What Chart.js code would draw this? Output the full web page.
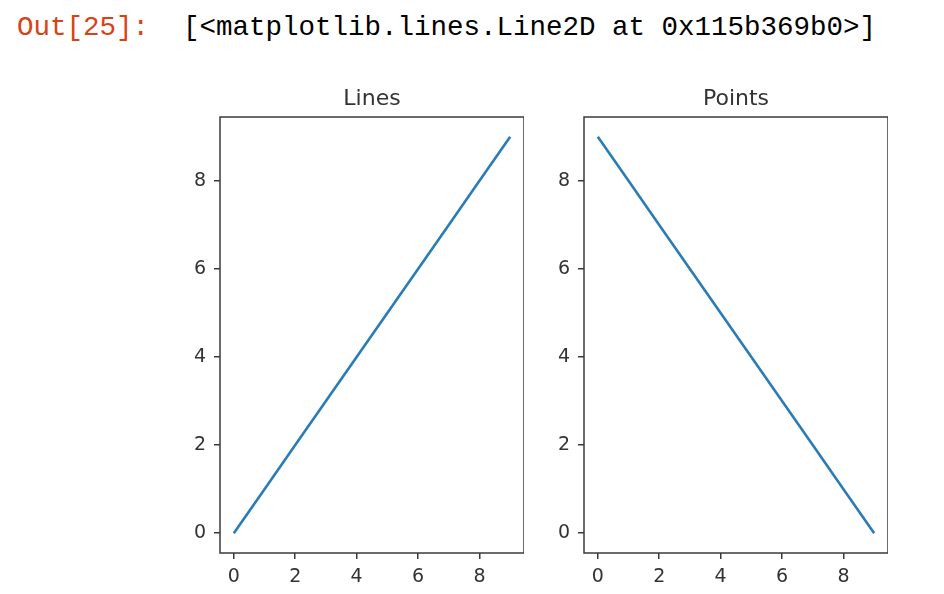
<!DOCTYPE html>
<html>
<head>
<meta charset="utf-8">
<script src="https://cdn.jsdelivr.net/npm/chart.js@4.4.1/dist/chart.umd.min.js"></script>
<style>
  html, body { margin: 0; padding: 0; background: #fff; width: 944px; height: 594px; overflow: hidden; }
  .prompt { position: absolute; top: 13px; font-family: "Liberation Mono", monospace; font-size: 27.5px; line-height: 30px; white-space: pre; }
  #outPrompt { left: 17px; color: #d84315; }
  #outText { left: 183px; color: #000; }
  canvas { position: absolute; }
</style>
</head>
<body>
<div class="prompt" id="outPrompt">Out[25]:</div>
<div class="prompt" id="outText">[&lt;matplotlib.lines.Line2D at 0x115b369b0&gt;]</div>
<canvas id="linesChart" width="374" height="514" style="left:150px; top:80px;"></canvas>
<canvas id="pointsChart" width="364" height="514" style="left:524px; top:80px;"></canvas>
<script>
// data
const xValues = [0, 1, 2, 3, 4, 5, 6, 7, 8, 9];
const linesY = [0, 1, 2, 3, 4, 5, 6, 7, 8, 9];
const pointsY = [9, 8, 7, 6, 5, 4, 3, 2, 1, 0];
const tickValues = [0, 2, 4, 6, 8];
const titles = ['Lines', 'Points'];

const axisMin = -0.45;
const axisMax = 9.45;
const textColor = '#333';
const frameColor = '#3a3a3a';

// draws the full box round the plot area, like matplotlib's spines
const framePlugin = {
    id: 'frame',
    afterDraw(chart) {
        const a = chart.chartArea;
        const c = chart.ctx;
        c.save();
        c.strokeStyle = frameColor;
        c.lineWidth = 1.5;
        c.strokeRect(a.left, a.top, a.right - a.left, a.bottom - a.top);
        c.restore();
    }
};

function makeAxis(fitSize, isX) {
    return {
        type: 'linear',
        min: axisMin,
        max: axisMax,
        afterBuildTicks: (scale) => {
            scale.ticks = tickValues.map(v => ({ value: v }));
        },
        afterFit: (scale) => {
            if (isX) scale.height = fitSize; else scale.width = fitSize;
        },
        border: { display: false },
        grid: {
            display: true,
            drawOnChartArea: false,
            drawTicks: true,
            tickLength: 6,
            color: frameColor,
            lineWidth: 1.5
        },
        ticks: {
            color: textColor,
            padding: isX ? 7 : 8,
            maxRotation: 0,
            font: { family: 'DejaVu Sans', size: 19 }
        }
    };
}

function makeChart(id, title, yData, yWidth) {
    const ctx = document.getElementById(id);
    return new Chart(ctx, {
        type: 'scatter',
        data: {
            datasets: [{
                data: xValues.map((x, i) => ({ x: x, y: yData[i] })),
                showLine: true,
                borderColor: '#2a7cb8',
                borderWidth: 2.6,
                pointRadius: 0,
                tension: 0
            }]
        },
        options: {
            responsive: false,
            animation: false,
            devicePixelRatio: 1,
            layout: { padding: { left: 0, right: 0, top: 0, bottom: 0 } },
            scales: {
                x: makeAxis(41, true),
                y: makeAxis(yWidth, false)
            },
            plugins: {
                legend: { display: false },
                tooltip: { enabled: false },
                title: {
                    display: true,
                    text: title,
                    fullSize: false,
                    color: textColor,
                    padding: { top: 6, bottom: 4.6 },
                    font: { family: 'DejaVu Sans', size: 22, weight: 'normal' }
                }
            }
        },
        plugins: [framePlugin]
    });
}

makeChart('linesChart', titles[0], linesY, 70);
makeChart('pointsChart', titles[1], pointsY, 60);
</script>
</body>
</html>
